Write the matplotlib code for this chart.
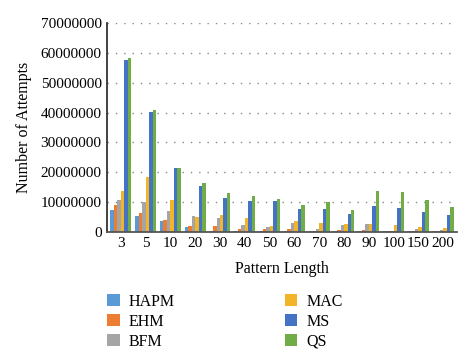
import numpy as np
import matplotlib.pyplot as plt

plt.rcParams['font.family'] = ['Liberation Serif', 'DejaVu Serif']

lengths = ['3', '5', '10', '20', '30', '40', '50', '60', '70', '80', '90', '100', '150', '200']
series = ['HAPM', 'EHM', 'BFM', 'MAC', 'MS', 'QS']
colors = ['#5B9BD5', '#ED7D31', '#A5A5A5', '#F2B52A', '#4472C4', '#70AD47']

hapm = [7.4e6, 5.1e6, 3.7e6, 1.7e6, 0.1e6, 0.1e6, 0.1e6, 0.1e6, 0.1e6, 0.1e6, 0.1e6, 0.05e6, 0.05e6, 0.05e6]
ehm = [9.1e6, 6.2e6, 3.9e6, 1.9e6, 1.8e6, 0.8e6, 0.8e6, 0.8e6, 0.2e6, 0.6e6, 0.6e6, 0.2e6, 0.2e6, 0.3e6]
bfm = [10.7e6, 9.9e6, 6.8e6, 5.3e6, 4.5e6, 2.3e6, 1.7e6, 2.8e6, 1.0e6, 2.1e6, 2.4e6, 0.3e6, 0.8e6, 0.6e6]
mac = [13.8e6, 18.5e6, 10.7e6, 4.8e6, 5.6e6, 4.6e6, 1.9e6, 3.7e6, 3.0e6, 2.4e6, 2.4e6, 2.1e6, 1.5e6, 1.2e6]
ms = [57.8e6, 40.2e6, 21.3e6, 15.2e6, 11.2e6, 10.4e6, 10.2e6, 7.6e6, 7.7e6, 6.0e6, 8.5e6, 8.0e6, 6.6e6, 5.5e6]
qs = [58.2e6, 41.0e6, 21.3e6, 16.3e6, 12.9e6, 12.1e6, 10.8e6, 8.9e6, 10.0e6, 7.4e6, 13.5e6, 13.3e6, 10.7e6, 8.1e6]
data = [hapm, ehm, bfm, mac, ms, qs]

fig = plt.figure(figsize=(4.74, 3.63), dpi=100)
ax = fig.add_axes([0.226, 0.362, 0.738, 0.574])

x = np.arange(len(lengths))
w = 0.14
for i, (name, vals) in enumerate(zip(series, data)):
    ax.bar(x + (i - 2.5) * w, vals, width=w, color=colors[i], label=name)

ax.set_ylim(0, 70000000)
ax.set_yticks(np.arange(0, 70000001, 10000000))
ax.set_yticklabels([str(int(v)) for v in np.arange(0, 70000001, 10000000)])
ax.set_xlim(-0.55, len(lengths) - 0.45)
ax.set_xticks(x)
ax.set_xticklabels(lengths)
ax.tick_params(length=0, labelsize=11, pad=4)
ax.yaxis.grid(True, linestyle=(0, (1, 5)), color='#888888', linewidth=1)
ax.set_axisbelow(True)
for s in ['top', 'right']:
    ax.spines[s].set_visible(False)
ax.spines['left'].set_color('#333333')
ax.spines['left'].set_linewidth(1.3)
ax.spines['bottom'].set_color('#555555')
ax.spines['bottom'].set_linewidth(1.3)

ax.set_xlabel('Pattern Length', fontsize=11.5, labelpad=8)
ax.set_ylabel('Number of Attempts', fontsize=11.5, labelpad=6)

handles, labels = ax.get_legend_handles_labels()
fig.legend(handles, labels, loc='upper left', bbox_to_anchor=(0.195, 0.23), ncol=2,
           frameon=False, fontsize=11.5, handlelength=0.8, handleheight=0.8,
           columnspacing=6.9, labelspacing=0.25, handletextpad=0.55)

fig.savefig('out.png', dpi=100)
